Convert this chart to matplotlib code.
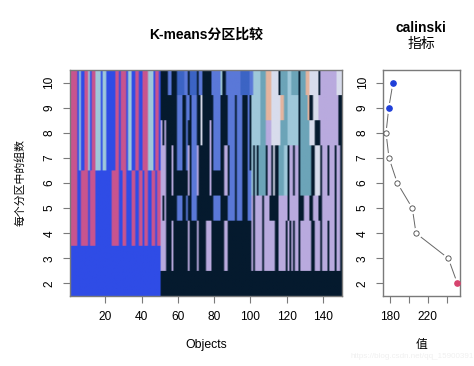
#!/usr/bin/env python3
import numpy as np
import matplotlib
matplotlib.use("Agg")
import matplotlib.pyplot as plt
from matplotlib.colors import ListedColormap

plt.rcParams['font.family'] = ['Liberation Sans', 'Noto Sans CJK SC', 'DejaVu Sans']

palette = {
    "n": "#051a2e", "b": "#2f4ce6", "c": "#c8548e", "d": "#b9aade", "e": "#5a78d8",
    "h": "#3c64c4", "f": "#9fc8da", "g": "#6ca4b8", "l": "#d8dcec", "p": "#e4b49e",
}
codes = list(palette)

# each row is a list of (last object, cluster colour) runs
left_low = [(50, "b")]
left_mid = [(4, "c"), (6, "b"), (10, "c"), (11, "b"), (14, "c"), (23, "b"), (27, "c"), (29, "b"),
            (31, "c"), (34, "b"), (36, "c"), (38, "b"), (40, "c"), (41, "b"), (43, "c"), (45, "b"),
            (47, "c"), (48, "b"), (50, "c")]
left_top = [(4, "c"), (5, "b"), (6, "f"), (8, "b"), (10, "c"), (11, "f"), (12, "b"), (14, "c"),
            (17, "f"), (18, "b"), (20, "f"), (25, "b"), (27, "c"), (28, "b"), (31, "c"), (32, "b"),
            (34, "f"), (36, "b"), (38, "c"), (40, "b"), (43, "c"), (46, "f"), (47, "b"), (49, "c"), (50, "b")]

right_2 = [(150, "n")]
right_34 = [(53, "d"), (56, "n"), (57, "d"), (65, "n"), (66, "d"), (70, "n"), (71, "d"), (75, "n"),
            (78, "d"), (85, "n"), (87, "d"), (100, "n"), (101, "d"), (102, "n"), (106, "d"), (107, "n"),
            (113, "d"), (115, "n"), (119, "d"), (120, "n"), (121, "d"), (122, "n"), (123, "d"), (124, "n"),
            (126, "d"), (127, "n"), (133, "d"), (135, "n"), (138, "d"), (139, "n"), (142, "d"), (143, "n"),
            (146, "d"), (147, "n"), (149, "d"), (150, "n")]
right_5 = [(51, "d"), (52, "n"), (53, "d"), (59, "n"), (62, "e"), (64, "n"), (65, "e"), (67, "n"),
           (70, "e"), (79, "n"), (83, "e"), (87, "n"), (91, "e"), (92, "n"), (95, "e"), (98, "n"),
           (100, "e"), (101, "d"), (102, "n"), (106, "d"), (107, "n"), (110, "d"), (115, "n"), (116, "d"),
           (118, "d"), (120, "d"), (121, "n"), (126, "d"), (129, "n"), (132, "d"), (134, "n"), (137, "d"),
           (139, "n"), (146, "d"), (147, "n"), (149, "d"), (150, "n")]
tail_67 = [(101, "f"), (102, "n"), (103, "f"), (104, "n"), (108, "g"), (109, "n"), (111, "d"), (112, "n"),
           (113, "l"), (115, "n"), (118, "g"), (120, "f"), (121, "n"), (123, "d"), (124, "n"), (126, "d"),
           (127, "n"), (133, "g"), (135, "n"), (138, "l"), (139, "n"), (142, "d"), (143, "n"), (146, "d"),
           (147, "n"), (149, "d"), (150, "n")]
right_6 = [(53, "d"), (56, "n"), (57, "d"), (65, "n"), (66, "d"), (67, "n"), (70, "e"), (71, "d"),
           (77, "n"), (78, "d"), (85, "n"), (87, "d"), (88, "n"), (91, "e"), (92, "n"), (95, "e"),
           (98, "n"), (100, "e")] + tail_67
right_7 = [(53, "d"), (56, "n"), (57, "d"), (59, "n"), (62, "e"), (64, "n"), (65, "e"), (66, "d"),
           (67, "n"), (70, "e"), (71, "d"), (77, "n"), (78, "d"), (79, "n"), (83, "e"), (85, "n"),
           (87, "d"), (88, "n"), (91, "e"), (92, "n"), (95, "e"), (98, "n"), (99, "e"), (100, "n")] + tail_67
right_8 = [(51, "d"), (52, "n"), (53, "d"), (59, "n"), (62, "e"), (64, "n"), (65, "e"), (67, "n"),
           (70, "e"), (72, "n"), (73, "l"), (77, "n"), (78, "d"), (79, "n"), (83, "e"), (87, "n"),
           (91, "e"), (92, "n"), (95, "e"), (98, "n"), (99, "e"), (100, "n"), (105, "f"), (108, "g"),
           (111, "d"), (116, "l"), (120, "g"), (126, "f"), (127, "n"), (132, "g"), (135, "l"), (138, "n"),
           (148, "d"), (150, "n")]
right_9 = [(59, "n"), (62, "e"), (64, "n"), (66, "e"), (67, "n"), (70, "e"), (72, "n"), (73, "l"),
           (79, "n"), (83, "e"), (87, "n"), (91, "e"), (92, "n"), (95, "e"), (98, "n"), (99, "e"),
           (100, "n"), (105, "f"), (108, "g"), (111, "p"), (116, "l"), (118, "p"), (120, "g"), (126, "f"),
           (127, "n"), (131, "g"), (132, "p"), (134, "n"), (137, "l"), (139, "d"), (148, "d"), (150, "n")]
right_10 = [(54, "n"), (56, "e"), (59, "n"), (63, "h"), (65, "e"), (66, "n"), (70, "h"), (71, "n"),
            (73, "e"), (78, "n"), (83, "e"), (84, "f"), (86, "n"), (92, "e"), (94, "e"), (99, "h"),
            (101, "e"), (105, "f"), (108, "g"), (111, "p"), (115, "l"), (116, "n"), (120, "g"), (122, "f"),
            (126, "g"), (127, "n"), (130, "g"), (132, "p"), (137, "l"), (138, "n"), (147, "d"), (150, "l")]

rows_left = [left_low, left_low, left_mid, left_mid, left_mid, left_top, left_top, left_top, left_top]
rows_right = [right_2, right_34, right_34, right_5, right_6, right_7, right_8, right_9, right_10]
k_values = [2, 3, 4, 5, 6, 7, 8, 9, 10]

# calinski index per number of groups
calinski = [251.3, 241.7, 207.5, 203.6, 187.7, 178.9, 175.8, 178.7, 183.2]
point_colors = ["#d6436e", None, None, None, None, None, None, "#1f3fd8", "#1f3fd8"]

obj_ticks = [20, 40, 60, 80, 100, 120, 140]
val_ticks = [180, 200, 220, 240]
val_labels = ["180", "", "220", ""]

GREY = "#7a7a7a"
W, H = 474, 366


def expand(runs, start=0):
    out = []
    prev = start
    for end, code in runs:
        out += [codes.index(code)] * (end - prev)
        prev = end
    return out


def style_axes(ax):
    for s in ax.spines.values():
        s.set_color(GREY)
        s.set_linewidth(1.0)
    ax.tick_params(length=5, width=0.8, color=GREY, labelsize=8.6, pad=5.5)
    ax.set_yticks(k_values)
    for t in ax.get_yticklabels():
        t.set_rotation(90)
        t.set_va("center")


def box(x0, y0, x1, y1):
    return [x0 / W, 1 - y1 / H, (x1 - x0) / W, (y1 - y0) / H]


matrix = np.array([expand(a) + expand(b, 50) for a, b in zip(rows_left, rows_right)])

fig = plt.figure(figsize=(4.74, 3.66), dpi=100)

ax = fig.add_axes(box(70, 70, 342, 296))
# rows repeated so the smoothing only softens the stripes, not the whole row height
ax.imshow(np.repeat(matrix, 25, axis=0), origin="lower", aspect="auto", interpolation="bilinear",
          interpolation_stage="rgba", extent=(0.5, 150.5, 1.5, 10.5),
          cmap=ListedColormap(list(palette.values())), vmin=0, vmax=len(codes) - 1)
ax.set_xticks(obj_ticks)
style_axes(ax)

ax2 = fig.add_axes(box(383.3, 70, 460.3, 296))
ax2.plot(calinski, k_values, color="#666666", lw=0.7, zorder=2)
ax2.plot(calinski, k_values, ls="none", marker="o", ms=8, mfc="white", mec="none", zorder=2.2)
for v, k, c in zip(calinski, k_values, point_colors):
    if c:
        ax2.plot(v, k, marker="o", ms=3.8, mfc=c, mec=c, zorder=3, clip_on=False)
    else:
        ax2.plot(v, k, marker="o", ms=3.8, mfc="white", mec="#444444", mew=0.6, zorder=3)
ax2.set_xlim(172.9, 254.4)
ax2.set_ylim(1.5, 10.5)
ax2.set_xticks(val_ticks)
ax2.set_xticklabels(val_labels)
style_axes(ax2)

fig.text(206 / W, 1 - 35 / H, "K-means分区比较", ha="center", va="center",
         fontsize=10, fontweight="bold")
fig.text(421 / W, 1 - 28 / H, "calinski", ha="center", va="center", fontsize=10, fontweight="bold")
fig.text(421 / W, 1 - 44 / H, "指标", ha="center", va="center", fontsize=10)
fig.text(206 / W, 1 - 345 / H, "Objects", ha="center", va="center", fontsize=8.8)
fig.text(421 / W, 1 - 345 / H, "值", ha="center", va="center", fontsize=8.5)
fig.text(20 / W, 1 - 183 / H, "每个分区中的组数", rotation=90, ha="center", va="center", fontsize=7.8)
fig.text(412 / W, 1 - 357 / H, "https://blog.csdn.net/qq_15900391", ha="center", va="center",
         fontsize=5.8, color="#f0f0f0")

fig.savefig("out.png", dpi=100)
